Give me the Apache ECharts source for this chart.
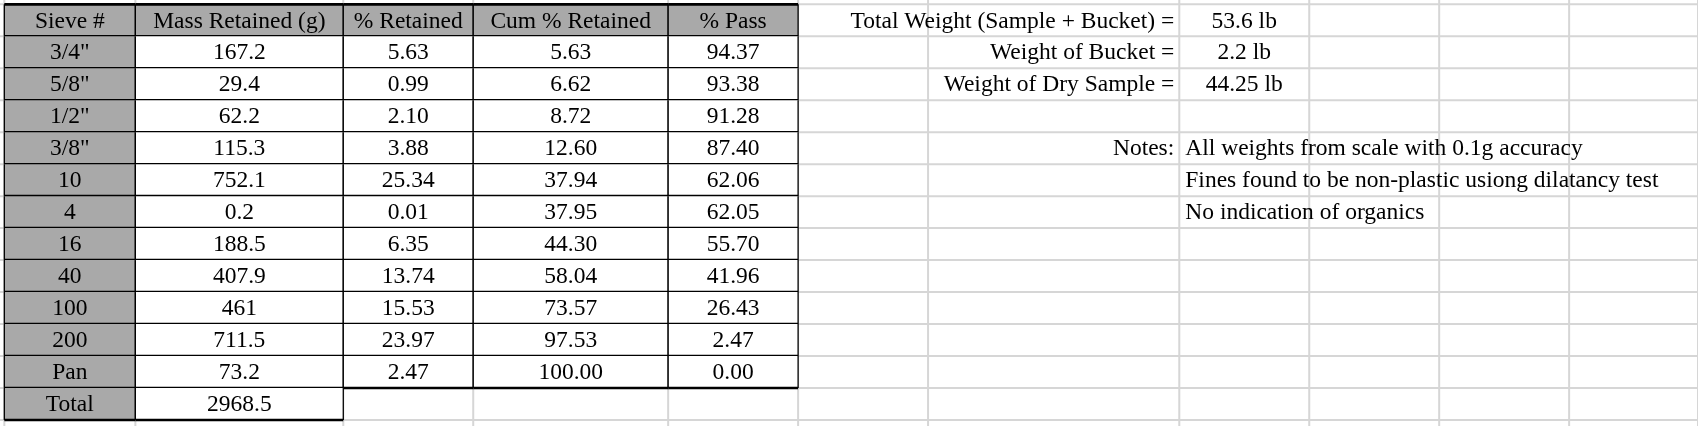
<!DOCTYPE html>
<html>
<head>
<meta charset="utf-8">
<script src="https://cdn.jsdelivr.net/npm/echarts@6/dist/echarts.min.js"></script>
<style>html,body{margin:0;padding:0;background:#fff}#chart{width:1698px;height:426px}</style>
</head>
<body>
<div id="chart"></div>
<script>
var headers = ['Sieve #', 'Mass Retained (g)', '% Retained', 'Cum % Retained', '% Pass'];
var sieves = ['3/4"', '5/8"', '1/2"', '3/8"', '10', '4', '16', '40', '100', '200', 'Pan'];
var massRetained = [167.2, 29.4, 62.2, 115.3, 752.1, 0.2, 188.5, 407.9, 461, 711.5, 73.2];
var pctRetained = [5.63, 0.99, 2.10, 3.88, 25.34, 0.01, 6.35, 13.74, 15.53, 23.97, 2.47];
var cumRetained = [5.63, 6.62, 8.72, 12.60, 37.94, 37.95, 44.30, 58.04, 73.57, 97.53, 100.00];
var pctPass = [94.37, 93.38, 91.28, 87.40, 62.06, 62.05, 55.70, 41.96, 26.43, 2.47, 0.00];
var totalMass = 2968.5;
var infoLabels = ['Total Weight (Sample + Bucket) =', 'Weight of Bucket =', 'Weight of Dry Sample ='];
var infoValues = ['53.6 lb', '2.2 lb', '44.25 lb'];
var notes = ['All weights from scale with 0.1g accuracy', 'Fines found to be non-plastic usiong dilatancy test', 'No indication of organics'];

// sheet layout (column edges in sheet units, rows in row units)
var colEdges = [4, 125, 317, 437, 617, 737, 857, 1089, 1209, 1329, 1449, 1568];
var nRows = 14;
var Y0 = -0.136, Y1 = 13.19;
var GRAY = '#a9a9a9';

var cells = [];
function addCell(c0, c1, row, text, align, fill, border) {
  cells.push({c0: c0, c1: c1, row: row, text: text, align: align, fill: fill, border: border});
}
headers.forEach(function (h, i) { addCell(i, i + 1, 0, h, 'center', GRAY, true); });
sieves.forEach(function (s, r) {
  var row = r + 1;
  addCell(0, 1, row, s, 'center', GRAY, true);
  addCell(1, 2, row, String(massRetained[r]), 'center', '#fff', true);
  addCell(2, 3, row, pctRetained[r].toFixed(2), 'center', '#fff', true);
  addCell(3, 4, row, cumRetained[r].toFixed(2), 'center', '#fff', true);
  addCell(4, 5, row, pctPass[r].toFixed(2), 'center', '#fff', true);
});
addCell(0, 1, 12, 'Total', 'center', GRAY, true);
addCell(1, 2, 12, String(totalMass), 'center', '#fff', true);
infoLabels.forEach(function (t, i) {
  addCell(6, 7, i, t, 'right', null, false);
  addCell(7, 8, i, infoValues[i], 'center', null, false);
});
addCell(6, 7, 4, 'Notes:', 'right', null, false);
notes.forEach(function (t, i) { addCell(7, 8, 4 + i, t, 'left', null, false); });

var gridLines = [];
colEdges.forEach(function (x) { gridLines.push({v: true, pos: x}); });
for (var r = 0; r <= nRows; r++) gridLines.push({v: false, pos: r});

var chart = echarts.init(document.getElementById('chart'));
chart.setOption({
  animation: false,
  grid: {left: 0, right: 0, top: 0, bottom: 0},
  xAxis: {type: 'value', min: 0, max: 1568, show: false},
  yAxis: {type: 'value', min: Y0, max: Y1, inverse: true, show: false},
  series: [{
    type: 'custom',
    data: gridLines.map(function (g, i) { return [i]; }),
    renderItem: function (params, api) {
      var g = gridLines[params.dataIndex];
      var p0 = g.v ? api.coord([g.pos, Y0]) : api.coord([0, g.pos]);
      var p1 = g.v ? api.coord([g.pos, Y1]) : api.coord([1568, g.pos]);
      return {type: 'line', shape: {x1: p0[0], y1: p0[1], x2: p1[0], y2: p1[1]},
        style: {stroke: '#d6d6d6', lineWidth: 2}};
    }
  }, {
    type: 'custom',
    data: cells.map(function (c, i) { return [i]; }),
    renderItem: function (params, api) {
      var c = cells[params.dataIndex];
      var a = api.coord([colEdges[c.c0], c.row]);
      var b = api.coord([colEdges[c.c1], c.row + 1]);
      var children = [];
      if (c.fill) children.push({type: 'rect', shape: {x: a[0], y: a[1], width: b[0] - a[0], height: b[1] - a[1]},
        style: {fill: c.fill}});
      if (c.border) {
        children.push({type: 'line', shape: {x1: a[0], y1: a[1], x2: a[0], y2: b[1]}, style: {stroke: '#000', lineWidth: 1.3}});
        children.push({type: 'line', shape: {x1: b[0], y1: a[1], x2: b[0], y2: b[1]}, style: {stroke: '#000', lineWidth: 1.3}});
        children.push({type: 'line', shape: {x1: a[0], y1: b[1], x2: b[0], y2: b[1]}, style: {stroke: '#000', lineWidth: 2.6}});
        if (c.row === 0) children.push({type: 'line', shape: {x1: a[0], y1: a[1], x2: b[0], y2: a[1]}, style: {stroke: '#000', lineWidth: 2.6}});
      }
      var tx = c.align === 'center' ? (a[0] + b[0]) / 2 : c.align === 'right' ? b[0] - 5 : a[0] + 6;
      children.push({type: 'text', x: tx, y: (a[1] + b[1]) / 2 + 1,
        style: {text: c.text, align: c.align, verticalAlign: 'middle', fill: '#000',
          font: '23.5px "Liberation Serif", serif'}, z2: 10});
      return {type: 'group', children: children};
    }
  }]
});
</script>
</body>
</html>
